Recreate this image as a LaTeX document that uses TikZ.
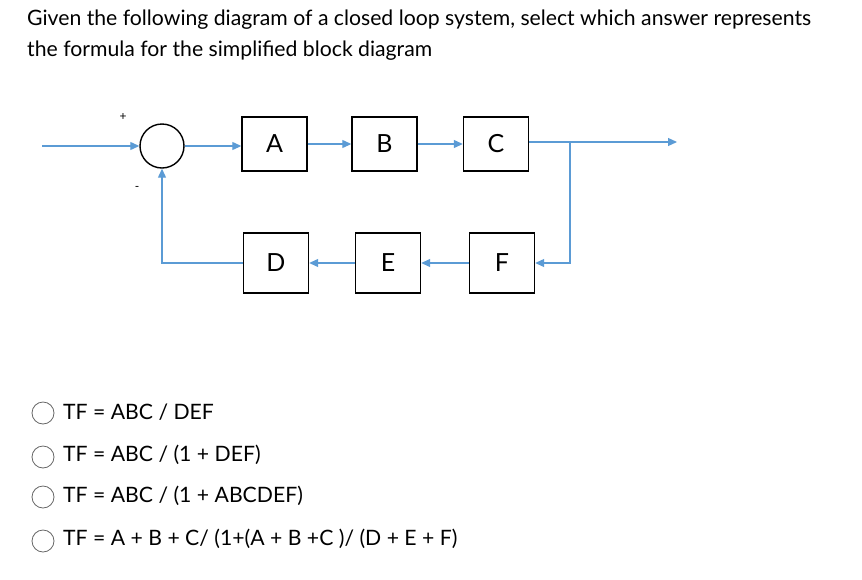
\documentclass[tikz,border=0pt]{standalone}
\usepackage{fontspec}
\setmainfont{Lato}
\usetikzlibrary{arrows.meta,shapes.geometric}
\begin{document}
\begin{tikzpicture}[x=1pt,y=-1pt,
  blk/.style={draw,line width=1.4pt,minimum width=65pt,minimum height=54pt,font=\fontsize{25}{28}\selectfont,inner sep=0},
  sig/.style={draw={rgb,255:red,91;green,155;blue,213},line width=1.2pt,-{Triangle[length=9pt,width=8pt]}},
  txt/.style={anchor=west,font=\fontsize{21.2}{24}\selectfont,inner sep=0},
  opt/.style={draw=black!60,line width=0.8pt,circle,minimum size=22pt,inner sep=0}]
\useasboundingbox (0,0) rectangle (862,579);
\node[txt] (q1) at (27,20) {Given the following diagram of a closed loop system, select which answer represents};
\node[txt] (q2) at (27,51) {the formula for the simplified block diagram};
\node[draw,line width=1.4pt,ellipse,minimum width=44pt,minimum height=44pt] (s) at (162,146) {};
\node[font=\large] (pl) at (123,117) {+};
\node[font=\large] (mi) at (137,188) {-};
\node[blk] (A) at (274.5,144) {A};
\node[blk] (B) at (384.5,144) {B};
\node[blk] (C) at (496,144) {C};
\node[blk,minimum height=60pt] (D) at (276,263) {D};
\node[blk,minimum height=60pt] (E) at (388,263) {E};
\node[blk,minimum height=60pt] (F) at (502,263) {F};
\coordinate (in) at (42,146);
\coordinate (out) at (677,142);
\coordinate (br) at (570,142);
\coordinate (fb) at (570,263);
\coordinate (dl) at (162,263);
\draw[sig] (in) -- (s.west);
\draw[sig] (s.east) -- (s.east -| A.west);
\draw[sig] (A.east) -- (B.west);
\draw[sig] (B.east) -- (C.west);
\draw[sig] (C.east |- out) -- (out);
\draw[sig] (br) -- (fb) -- (F.east);
\draw[sig] (F.west) -- (E.east);
\draw[sig] (E.west) -- (D.east);
\draw[sig] (D.west) -- (dl) -- (s.south);
\node[opt] (o1) at (43,413) {};
\node[opt] (o2) at (43,457) {};
\node[opt] (o3) at (43,497) {};
\node[opt] (o4) at (43,541) {};
\node[txt] (t1) at (63,412) {TF = ABC / DEF};
\node[txt] (t2) at (63,455) {TF = ABC / (1 + DEF)};
\node[txt] (t3) at (63,496) {TF = ABC / (1 + ABCDEF)};
\node[txt] (t4) at (63,539) {TF = A + B + C/ (1+(A + B +C )/ (D + E + F)};
\end{tikzpicture}
\end{document}
